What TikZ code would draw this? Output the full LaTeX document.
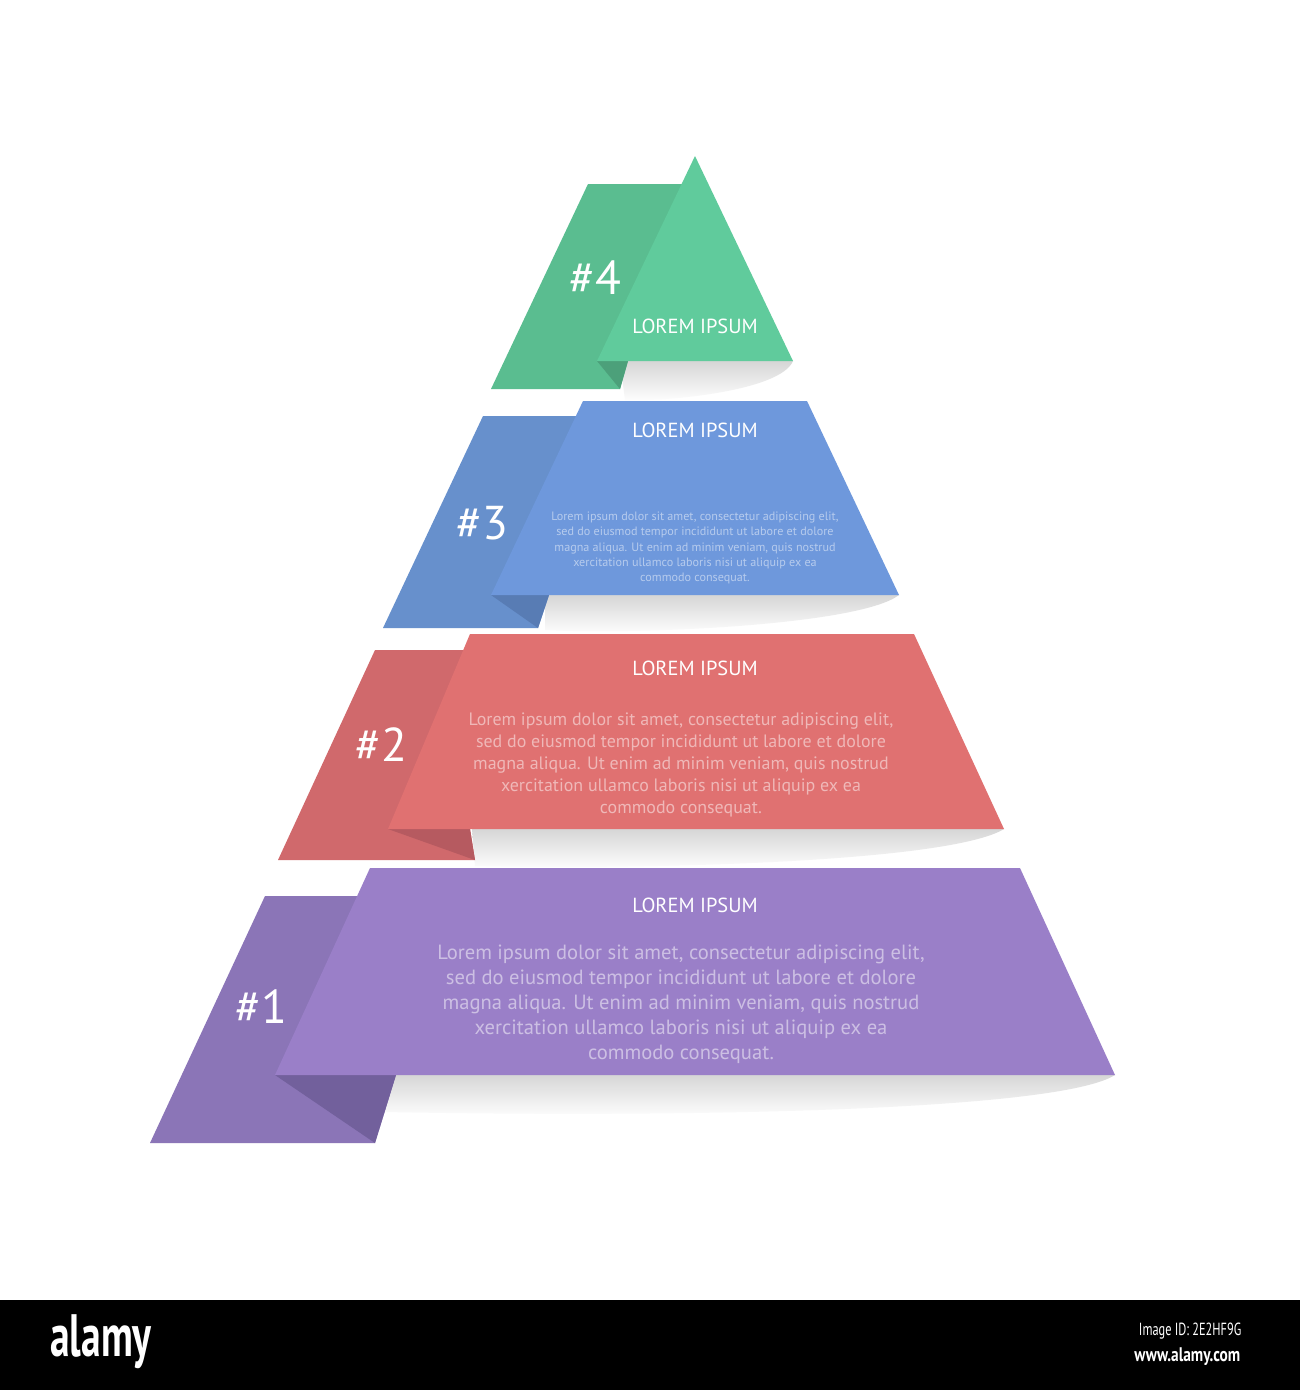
\documentclass[tikz,border=0pt]{standalone}
\usepackage{fontspec}
\setmainfont{PT Sans}
\usepackage{tikz}

\definecolor{greenfront}{RGB}{96,203,156}
\definecolor{greenback}{RGB}{90,189,144}
\definecolor{greenfold}{RGB}{76,160,122}
\definecolor{bluefront}{RGB}{110,152,220}
\definecolor{blueback}{RGB}{103,144,204}
\definecolor{bluefold}{RGB}{88,124,180}
\definecolor{redfront}{RGB}{224,113,113}
\definecolor{redback}{RGB}{208,105,108}
\definecolor{redfold}{RGB}{182,90,96}
\definecolor{purplefront}{RGB}{154,127,200}
\definecolor{purpleback}{RGB}{139,117,183}
\definecolor{purplefold}{RGB}{114,96,156}

\tikzset{
    title/.style={text=white, font=\fontsize{5.8}{7}\selectfont},
    number/.style={text=white, font=\fontsize{13.5}{15}\selectfont},
    body/.style={text=white, text opacity=0.5, align=center},
    shadow/.style={top color=black!16, bottom color=white, draw=none}
}

\begin{document}
\begin{tikzpicture}[x=0.01cm, y=-0.01cm]
    % page and bounding box
    \fill[white] (0,0) rectangle (1300,1390);

    % Soft shadows under the front panels
    \shade[shadow] (620,361) -- (793,361) .. controls (780,392) and (660,402) .. (625,400) -- cycle;
    \shade[shadow] (545,595) -- (899,595) .. controls (860,625) and (640,635) .. (545,630) -- cycle;
    \shade[shadow] (472,829) -- (1004,829) .. controls (950,862) and (650,870) .. (475,866) -- cycle;
    \shade[shadow] (390,1075) -- (1115,1075) .. controls (1060,1110) and (700,1118) .. (385,1112) -- cycle;

    % Tier 4 (green)
    \fill[greenback] (588,184) -- (690,184) -- (628,361) -- (620,389) -- (491,389) -- cycle;
    \fill[greenfold] (597,361) -- (628,361) -- (620,389) -- cycle;
    \fill[greenfront] (695,156) -- (793,361) -- (597,361) -- cycle;

    % Tier 3 (blue)
    \fill[blueback] (483,416) -- (590,416) -- (549,595) -- (538,628) -- (383,628) -- cycle;
    \fill[bluefold] (491,595) -- (549,595) -- (538,628) -- cycle;
    \fill[bluefront] (583,401) -- (807,401) -- (899,595) -- (491,595) -- cycle;

    % Tier 2 (red)
    \fill[redback] (375,650) -- (480,650) -- (470,829) -- (475,860) -- (278,860) -- cycle;
    \fill[redfold] (388,829) -- (470,829) -- (475,860) -- cycle;
    \fill[redfront] (470,634) -- (914,634) -- (1004,829) -- (388,829) -- cycle;

    % Tier 1 (purple)
    \fill[purpleback] (265,896) -- (380,896) -- (396,1075) -- (375,1143) -- (150,1143) -- cycle;
    \fill[purplefold] (275,1075) -- (396,1075) -- (375,1143) -- cycle;
    \fill[purplefront] (370,868) -- (1020,868) -- (1115,1075) -- (275,1075) -- cycle;

    % Numbers
    \node[number] (num4) at (595,278) {\#4};
    \node[number] (num3) at (482,523) {\#3};
    \node[number] (num2) at (381,745) {\#2};
    \node[number] (num1) at (261,1007) {\#1};

    % Titles
    \node[title] (title4) at (695,326) {LOREM IPSUM};
    \node[title] (title3) at (695,430) {LOREM IPSUM};
    \node[title] (title2) at (695,668) {LOREM IPSUM};
    \node[title] (title1) at (695,905) {LOREM IPSUM};

    % Body texts
    \node[body, font=\fontsize{3.45}{4.3}\selectfont] (text3) at (695,548) {
        Lorem ipsum dolor sit amet, consectetur adipiscing elit,\\
        sed do eiusmod tempor incididunt ut labore et dolore\\
        magna aliqua. Ut enim ad minim veniam, quis nostrud\\
        xercitation ullamco laboris nisi ut aliquip ex ea\\
        commodo consequat.};
    \node[body, font=\fontsize{5.1}{6.3}\selectfont] (text2) at (681,765) {
        Lorem ipsum dolor sit amet, consectetur adipiscing elit,\\
        sed do eiusmod tempor incididunt ut labore et dolore\\
        magna aliqua. Ut enim ad minim veniam, quis nostrud\\
        xercitation ullamco laboris nisi ut aliquip ex ea\\
        commodo consequat.};
    \node[body, font=\fontsize{5.85}{7.1}\selectfont] (text1) at (681,1004) {
        Lorem ipsum dolor sit amet, consectetur adipiscing elit,\\
        sed do eiusmod tempor incididunt ut labore et dolore\\
        magna aliqua. Ut enim ad minim veniam, quis nostrud\\
        xercitation ullamco laboris nisi ut aliquip ex ea\\
        commodo consequat.};

    % Bottom bar
    \fill[black] (0,1300) rectangle (1300,1390);
    \node[text=white, font=\bfseries\fontsize{17}{18}\selectfont, xscale=0.66] (logo) at (101,1342) {alamy};
    \node[text=white, font=\fontsize{5}{6}\selectfont, xscale=0.7, anchor=east] (imageid) at (1250,1331) {Image ID: 2E2HF9G};
    \node[text=white, font=\bfseries\fontsize{5.6}{6}\selectfont, xscale=0.78, anchor=east] (website) at (1250,1357) {www.alamy.com};
\end{tikzpicture}
\end{document}
